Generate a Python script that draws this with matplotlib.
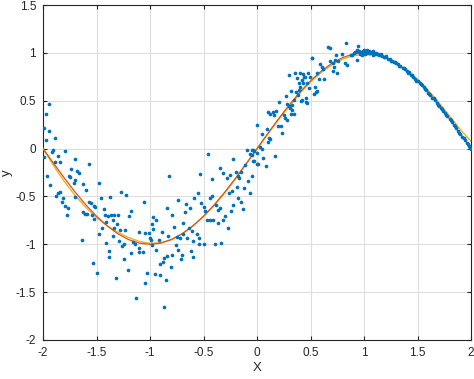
import matplotlib
matplotlib.use("Agg")
import matplotlib.pyplot as plt

# scatter samples (noisy data)
pts = [
    (-1.94, 0.47), (-1.975, 0.36), (-1.99, 0.21), (-1.94, 0.18), (-1.885, 0.11), (-1.97, 0.09),
    (-1.91, -0.015), (-1.92, -0.04), (-1.79, -0.03), (-1.99, -0.085), (-1.86, -0.075), (-1.84, -0.14),
    (-1.89, -0.14), (-1.70, -0.11), (-1.57, -0.16), (-1.74, -0.21), (-1.68, -0.235), (-1.66, -0.25),
    (-1.96, -0.29), (-1.76, -0.29), (-1.745, -0.30), (-1.70, -0.33), (-1.71, -0.36), (-1.63, -0.37),
    (-1.48, -0.36), (-1.93, -0.38), (-1.60, -0.43), (-1.27, -0.45), (-1.84, -0.45), (-1.86, -0.46),
    (-1.22, -0.485), (-1.875, -0.50), (-1.81, -0.52), (-1.46, -0.52), (-1.37, -0.51), (-1.70, -0.51),
    (-1.82, -0.56), (-1.79, -0.60), (-1.77, -0.625), (-1.775, -0.69), (-1.57, -0.555), (-1.55, -0.57),
    (-1.52, -0.60), (-1.51, -0.61), (-1.43, -0.63), (-1.63, -0.66), (-1.61, -0.68), (-1.59, -0.68),
    (-1.54, -0.69), (-1.42, -0.69), (-1.52, -0.74), (-1.36, -0.69), (-1.34, -0.69), (-1.30, -0.69),
    (-1.39, -0.70), (-1.41, -0.765), (-1.35, -0.75), (-1.31, -0.79), (-1.175, -0.65), (-1.20, -0.70),
    (-1.06, -0.56), (-1.445, -0.83), (-1.48, -0.89), (-1.34, -0.83), (-1.28, -0.85), (-1.23, -0.85),
    (-1.35, -0.91), (-1.41, -0.99), (-1.64, -0.95), (-1.29, -0.97), (-1.26, -1.015), (-1.24, -1.0),
    (-1.16, -0.975), (-1.10, -0.87), (-1.05, -0.885), (-1.01, -0.885), (-1.0, -0.93), (-1.14, -1.0),
    (-1.10, -1.035), (-1.10, -1.08), (-1.07, -1.085), (-1.18, -1.095), (-1.24, -1.15), (-1.38, -1.07),
    (-1.38, -1.135), (-1.53, -1.20), (-1.495, -1.30), (-1.205, -1.27), (-1.315, -1.355), (-1.025, -1.30),
    (-1.05, -1.40), (-1.13, -1.565),
    (-0.97, -0.71), (-0.94, -0.745), (-0.985, -0.79), (-0.97, -0.84), (-0.99, -0.95), (-0.985, -1.01),
    (-0.945, -1.06), (-0.92, -0.955), (-0.89, -0.87), (-0.845, -0.62), (-0.83, -0.91), (-0.79, -0.69),
    (-0.775, -0.82), (-0.75, -0.92), (-0.74, -0.54), (-0.72, -0.93), (-0.69, -0.895), (-0.76, -1.01),
    (-0.87, -1.14), (-0.84, -1.12), (-0.91, -1.21), (-0.88, -1.19), (-0.80, -1.24), (-0.79, -1.11),
    (-0.735, -1.06), (-0.70, -1.11), (-0.71, -1.155), (-0.95, -1.31), (-0.91, -1.32), (-0.85, -1.375),
    (-0.865, -1.65), (-0.695, -0.78), (-0.67, -0.665), (-0.66, -0.58), (-0.63, -0.62), (-0.64, -0.825),
    (-0.65, -0.93), (-0.61, -0.86), (-0.60, -0.97), (-0.565, -0.895), (-0.54, -0.93), (-0.62, -1.07),
    (-0.595, -1.13), (-0.54, -1.0), (-0.495, -1.0), (-0.52, -0.57), (-0.50, -0.61), (-0.485, -0.655),
    (-0.465, -0.745), (-0.44, -0.745), (-0.41, -0.745), (-0.38, -0.59), (-0.36, -0.64), (-0.35, -0.625),
    (-0.36, -0.78), (-0.39, -1.0), (-0.34, -0.99), (-0.315, -0.745), (-0.30, -0.70), (-0.27, -0.835),
    (-0.245, -0.655), (-0.22, -0.585), (-0.15, -0.56), (-0.135, -0.63),
    (-0.555, -0.46), (-0.585, -0.52), (-0.42, -0.495), (-0.44, -0.52), (-0.18, -0.52), (-0.07, -0.46),
    (-0.26, -0.46), (-0.23, -0.44), (-0.19, -0.40), (-0.12, -0.41), (-0.08, -0.34), (-0.11, -0.17),
    (-0.145, -0.24), (-0.17, -0.31), (-0.82, -0.29), (-0.53, -0.27), (-0.455, -0.06), (-0.42, -0.32),
    (-0.35, -0.20), (-0.32, -0.25), (-0.28, -0.31), (-0.25, -0.28), (-0.22, -0.11), (-0.20, -0.24),
    (-0.18, -0.29), (-0.003, 0.25), (-0.09, -0.015), (-0.04, -0.015), (-0.065, -0.06), (-0.03, -0.13),
    (0.0, -0.16),
    (0.21, 0.49), (0.28, 0.47), (0.30, 0.445), (0.42, 0.505), (0.47, 0.48), (0.10, 0.385),
    (0.145, 0.385), (0.18, 0.395), (0.16, 0.35), (0.255, 0.35), (0.33, 0.40), (0.345, 0.36),
    (0.32, 0.36), (0.20, 0.235), (0.22, 0.235), (0.09, 0.20), (0.235, 0.165), (0.05, 0.15),
    (0.115, 0.115), (0.125, 0.10), (0.105, 0.07), (0.03, 0.02), (0.045, 0.0), (-0.05, -0.02),
    (-0.03, -0.03), (0.0, -0.05), (-0.05, -0.07), (0.17, -0.075), (0.06, -0.10), (-0.035, -0.125),
    (0.01, -0.165), (0.08, -0.18), (-0.05, -0.285), (0.125, 0.36), (0.265, 0.315), (0.28, 0.30),
    (0.31, 0.42), (0.33, 0.455), (0.345, 0.505), (0.39, 0.61), (0.40, 0.64), (0.42, 0.715),
    (0.435, 0.75), (0.515, 0.945),
    (0.66, 1.065), (0.68, 1.05), (0.83, 1.10), (0.94, 1.075), (0.51, 0.95), (0.74, 0.98),
    (0.79, 0.99), (0.59, 0.88), (0.605, 0.855), (0.68, 0.91), (0.71, 0.89), (0.76, 0.91),
    (0.82, 0.89), (0.84, 0.87), (0.875, 0.98), (0.905, 1.0), (0.93, 1.02), (0.71, 0.815),
    (0.745, 0.79), (0.62, 0.83), (0.625, 0.73), (0.565, 0.79), (0.48, 0.785), (0.495, 0.75),
    (0.58, 0.73), (0.30, 0.77), (0.355, 0.785), (0.40, 0.79), (0.43, 0.78), (0.375, 0.74),
    (0.45, 0.75), (0.395, 0.68), (0.43, 0.68), (0.47, 0.69), (0.49, 0.635), (0.55, 0.59),
    (0.535, 0.565), (0.565, 0.60), (0.32, 0.605), (0.36, 0.59), (0.385, 0.56), (0.27, 0.55),
    (0.46, 0.53), (0.41, 0.50), (0.455, 0.49), (0.545, 0.645), (0.715, 0.855), (0.73, 0.93),
    (0.89, 0.98), (0.92, 1.01), (0.935, 1.03), (0.93, 0.925),
    (0.95, 1.02), (0.96, 0.99), (0.97, 1.01), (0.98, 1.0), (0.99, 1.02), (1.0, 1.01),
    (1.01, 0.99), (1.02, 1.02), (1.03, 1.0), (1.04, 1.01), (1.05, 0.995), (1.06, 1.0),
    (1.07, 1.01), (1.08, 0.98), (1.09, 0.995), (1.1, 0.99), (1.12, 0.985), (1.14, 0.975),
    (1.15, 0.98), (1.17, 0.965), (1.19, 0.96), (1.2, 0.955), (1.22, 0.94), (1.24, 0.935),
    (1.26, 0.92), (1.28, 0.905), (1.3, 0.895), (1.32, 0.88), (1.34, 0.865), (1.36, 0.845),
    (1.38, 0.83), (1.4, 0.81), (1.42, 0.795), (1.44, 0.77), (1.46, 0.75), (1.48, 0.73),
    (1.5, 0.705), (1.52, 0.685), (1.54, 0.66), (1.56, 0.64), (1.58, 0.61), (1.6, 0.585),
    (1.62, 0.56), (1.64, 0.53), (1.66, 0.505), (1.68, 0.48), (1.7, 0.45), (1.72, 0.425),
    (1.74, 0.395), (1.76, 0.37), (1.78, 0.34), (1.8, 0.31), (1.82, 0.28), (1.84, 0.245),
    (1.86, 0.215), (1.88, 0.185), (1.9, 0.155), (1.92, 0.125), (1.94, 0.09), (1.96, 0.06),
    (1.98, 0.03), (2.0, 0.0),
    (1.0, 1.03), (1.03, 1.03), (1.05, 1.02), (1.08, 1.015), (0.98, 0.975), (1.11, 1.0), (1.13, 0.99),
    (1.16, 0.985), (1.21, 0.965), (1.25, 0.915), (1.29, 0.905), (1.33, 0.86), (1.37, 0.845),
    (1.41, 0.79), (1.45, 0.765), (1.49, 0.71), (1.53, 0.675), (1.57, 0.62), (1.61, 0.575),
    (1.65, 0.525), (1.69, 0.46), (1.73, 0.415), (1.77, 0.35), (1.81, 0.30), (1.85, 0.235),
    (1.89, 0.165), (1.93, 0.11), (1.97, 0.045), (1.99, 0.01),
]
x_data = [p[0] for p in pts]
y_data = [p[1] for p in pts]

# curve samples
x_curve = [-2.0, -1.9, -1.8, -1.7, -1.6, -1.5, -1.4, -1.3, -1.2, -1.1, -1.0,
           -0.9, -0.8, -0.7, -0.6, -0.5, -0.4, -0.3, -0.2, -0.1, 0.0,
           0.1, 0.2, 0.3, 0.4, 0.5, 0.6, 0.7, 0.8, 0.9, 1.0,
           1.1, 1.2, 1.3, 1.4, 1.5, 1.6, 1.7, 1.8, 1.9, 2.0]
y_true = [0.0, -0.156, -0.309, -0.454, -0.588, -0.707, -0.809, -0.891, -0.951, -0.988, -1.0,
          -0.988, -0.951, -0.891, -0.809, -0.707, -0.588, -0.454, -0.309, -0.156, 0.0,
          0.156, 0.309, 0.454, 0.588, 0.707, 0.809, 0.891, 0.951, 0.988, 1.0,
          0.988, 0.951, 0.891, 0.809, 0.707, 0.588, 0.454, 0.309, 0.156, 0.0]
y_fit = [0.0, -0.18, -0.345, -0.49, -0.615, -0.72, -0.805, -0.875, -0.93, -0.97, -0.99,
         -0.985, -0.95, -0.89, -0.81, -0.71, -0.595, -0.46, -0.315, -0.16, -0.005,
         0.15, 0.30, 0.44, 0.575, 0.695, 0.795, 0.875, 0.935, 0.97, 0.985,
         0.98, 0.95, 0.895, 0.82, 0.725, 0.61, 0.48, 0.34, 0.20, 0.075]

x_ticks = [-2, -1.5, -1, -0.5, 0, 0.5, 1, 1.5, 2]
x_ticklabels = ['-2', '-1.5', '-1', '-0.5', '0', '0.5', '1', '1.5', '2']
y_ticks = [-2, -1.5, -1, -0.5, 0, 0.5, 1, 1.5]
y_ticklabels = ['-2', '-1.5', '-1', '-0.5', '0', '0.5', '1', '1.5']

plt.rcParams['font.family'] = ['Liberation Sans', 'DejaVu Sans']
fig = plt.figure(figsize=(4.74, 3.79), dpi=100)
ax = fig.add_axes([43 / 474, 1 - 340 / 379, 428 / 474, 335 / 379])

ax.plot(x_curve, y_fit, color='#EDB120', lw=1.0, zorder=3)
ax.plot(x_curve, y_true, color='#D95319', lw=0.9, zorder=3)
ax.scatter(x_data, y_data, s=7, color='#0072BD', linewidths=0, zorder=4)

ax.set_xlim(-2, 2)
ax.set_ylim(-2, 1.5)
ax.set_xticks(x_ticks)
ax.set_xticklabels(x_ticklabels)
ax.set_yticks(y_ticks)
ax.set_yticklabels(y_ticklabels)
ax.grid(True, color='#dedede', lw=0.8)
ax.set_axisbelow(True)
ax.tick_params(direction='in', length=3, width=0.8, colors='#262626', labelsize=8.5,
               top=True, right=True, pad=5)
for s in ax.spines.values():
    s.set_color('#262626')
    s.set_linewidth(0.8)
ax.set_xlabel('X', fontsize=9.5, color='#262626', labelpad=2)
ax.set_ylabel('y', fontsize=9.5, color='#262626', labelpad=2)

fig.savefig('out.png', dpi=100)
